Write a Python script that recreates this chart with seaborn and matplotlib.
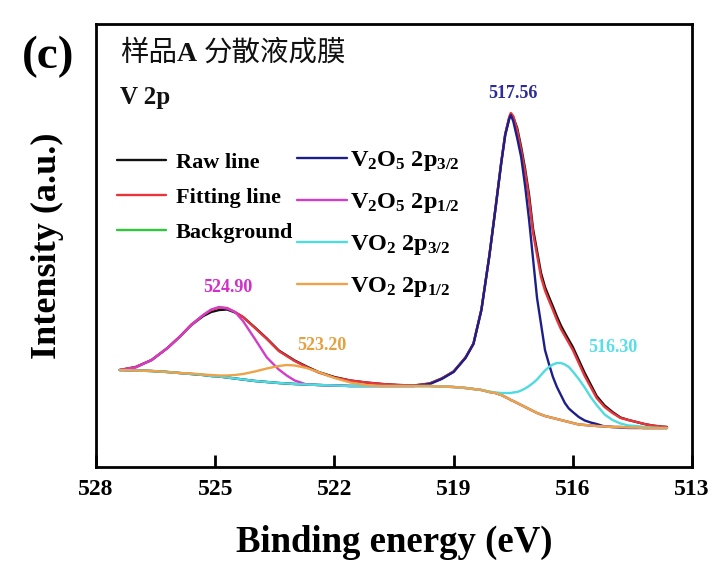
import matplotlib
matplotlib.use("Agg")
import matplotlib.pyplot as plt
import seaborn as sns
import pandas as pd
from matplotlib.font_manager import FontProperties

# ---------------- data ----------------
energy = [527.4, 527.0, 526.6, 526.2, 525.9, 525.6, 525.3, 525.1, 524.9, 524.7,
          524.5, 524.3, 524.0, 523.7, 523.4, 523.2, 523.0, 522.7, 522.4, 522.0,
          521.6, 521.2, 520.8, 520.4, 520.0, 519.6, 519.3, 519.0, 518.7, 518.5,
          518.3, 518.1, 517.95, 517.8, 517.7, 517.6, 517.56, 517.5, 517.4, 517.3,
          517.2, 517.1, 517.0, 516.9, 516.8, 516.7, 516.6, 516.5, 516.4, 516.3,
          516.2, 516.1, 516.0, 515.85, 515.7, 515.55, 515.4, 515.2, 515.0, 514.8,
          514.6, 514.4, 514.2, 514.0, 513.8, 513.63]

background = [97, 96.5, 96, 95, 94, 93, 92, 91, 90.5, 89.5,
              88.5, 87.5, 86, 85, 84, 83.5, 83, 82.5, 82, 81.5,
              81, 81, 81, 81, 81, 81, 80.5, 80, 79, 78,
              77, 75, 74, 72, 70, 68, 67, 66, 64, 62,
              60, 58, 56, 54, 52.5, 51, 50, 49, 48, 47,
              46, 45, 44, 42.5, 42, 41.5, 41, 40.5, 40, 40,
              39.5, 39.5, 39, 39, 39, 39]

raw_line = [97, 100, 107, 119, 130, 142, 151, 155, 157, 157.5,
            154.5, 150, 139.5, 128.5, 116.5, 111.5, 106.5, 100.5, 95, 90,
            86.5, 84.5, 83, 82, 81.5, 83.5, 88.5, 95.5, 109.5, 123.5,
            157.5, 211.5, 257.5, 305, 333, 349, 353, 350, 339, 320,
            298, 272, 238, 216, 194, 180, 170, 160.5, 150.5, 141.5,
            134, 127, 120, 107, 94, 82.5, 71, 61.5, 55, 49.5,
            47, 45, 43, 41.5, 40.5, 40]

fitting_line = [97, 100, 107, 119, 130, 142.5, 152, 157, 159.5, 159,
                155, 150, 139, 128, 116, 111, 106, 100, 94.5, 89.5,
                86.5, 84.5, 83, 82, 81.5, 83.5, 88.5, 95.5, 109.5, 123.5,
                157.5, 211.5, 257.5, 305, 333, 350, 354, 351, 337, 317,
                295, 268, 234, 212, 190, 176.5, 166.5, 157, 147, 138,
                131, 124, 117, 104, 91, 80, 69, 60, 54, 49,
                47, 45, 43, 41.5, 40.5, 40]

v2o5_2p32 = [97, 96.5, 96, 95, 94, 93, 92, 91, 90.5, 89.5,
             88.5, 87.5, 86, 85, 84, 83.5, 83, 82.5, 82, 81.5,
             81, 81, 81, 81, 81, 83, 88, 95, 109, 123,
             157, 211, 257, 304, 332, 348, 352, 346, 329, 310,
             281, 247, 208, 169, 143, 117, 103, 90, 80, 72,
             64, 58.5, 55, 50, 46.5, 44.5, 43, 40.5, 40, 39.5,
             39, 39, 39, 39, 39, 39]

v2o5_2p12 = [97, 99.5, 107, 119, 130, 142, 152, 157.5, 160, 158.5,
             155, 146, 128, 109.5, 97.5, 91.5, 86.5, 82.5, 82, 81.5,
             81, 81, 81, 81, 81, 81, 80.5, 80, 79, 78,
             77, 75, 74, 72, 70, 68, 67, 66, 64, 62,
             60, 58, 56, 54, 52.5, 51, 50, 49, 48, 47,
             46, 45, 44, 42.5, 42, 41.5, 41, 40.5, 40, 40,
             39.5, 39.5, 39, 39, 39, 39]

vo2_2p32 = [97, 96.5, 96, 95, 94, 93, 92, 91, 90.5, 89.5,
            88.5, 87.5, 86, 85, 84, 83.5, 83, 82.5, 82, 81.5,
            81, 81, 81, 81, 81, 81, 80.5, 80, 79, 78,
            77, 75.5, 74.5, 74, 74, 74, 74, 74.5, 75, 76.5,
            78.5, 81, 84, 87.5, 92, 96.5, 100, 102.5, 104, 104,
            102.5, 100, 95.5, 88, 79.5, 70, 62, 52.5, 47, 43.5,
            41.5, 41, 40, 39.5, 39, 39]

vo2_2p12 = [97, 96.5, 96, 95, 94, 93.5, 92.5, 92, 91.5, 91.5,
            92, 93, 95.5, 98.5, 101, 102, 101.5, 99, 95, 89,
            84.5, 82, 81, 81, 81, 81, 80.5, 80, 79, 78,
            77, 75, 74, 72, 70, 68, 67, 66, 64, 62,
            60, 58, 56, 54, 52.5, 51, 50, 49, 48, 47,
            46, 45, 44, 42.5, 42, 41.5, 41, 40.5, 40, 40,
            39.5, 39.5, 39, 39, 39, 39]

x_ticks = [528, 525, 522, 519, 516, 513]
legend_left = ["Raw line", "Fitting line", "Background"]
legend_right = ["V$_2$O$_5$ 2p$_{3/2}$", "V$_2$O$_5$ 2p$_{1/2}$",
                "VO$_2$ 2p$_{3/2}$", "VO$_2$ 2p$_{1/2}$"]
peak_labels = ["524.90", "523.20", "517.56", "516.30"]

# ---------------- style ----------------
sns.set_theme(style="white")
SERIF = "Liberation Serif"
plt.rcParams["font.family"] = [SERIF, "DejaVu Sans"]
plt.rcParams["font.weight"] = "bold"
plt.rcParams["mathtext.fontset"] = "custom"
plt.rcParams["mathtext.rm"] = SERIF + ":bold"
plt.rcParams["mathtext.it"] = SERIF + ":bold"
plt.rcParams["mathtext.bf"] = SERIF + ":bold"

W, H = 725, 580
fig = plt.figure(figsize=(W / 100, H / 100), dpi=100)
fig.patch.set_facecolor("white")
ax = fig.add_axes([96 / W, 1 - 467 / H, 596 / W, 443 / H])
ax.set_facecolor("white")

df = pd.DataFrame({
    "energy": energy, "bg": background, "raw": raw_line, "fit": fitting_line,
    "a": v2o5_2p32, "b": v2o5_2p12, "c": vo2_2p32, "d": vo2_2p12,
})

C_RAW, C_FIT, C_BG = "#111111", "#e8343a", "#2ec83a"
C_A, C_B, C_C, C_D = "#1c1f8a", "#d23cc8", "#4fdbe0", "#eda349"

order = [("bg", C_BG), ("raw", C_RAW), ("fit", C_FIT), ("a", C_A),
         ("b", C_B), ("c", C_C), ("d", C_D)]
lines = {}
for col, color in order:
    sns.lineplot(data=df, x="energy", y=col, ax=ax, color=color,
                 linewidth=1.7, estimator=None, sort=False, legend=False)
    lines[col] = ax.lines[-1]

ax.set_xlim(528, 513)
ax.set_ylim(0, 443)
ax.set_xticks(x_ticks)
ax.set_xticklabels([str(t) for t in x_ticks])
ax.set_yticks([])
ax.tick_params(axis="x", direction="in", length=8.5, width=2, pad=8.5,
               labelsize=17, colors="black", bottom=True, top=False)
for lab in ax.get_xticklabels():
    lab.set_fontweight("bold")
    lab.set_family(SERIF)
for s in ax.spines.values():
    s.set_linewidth(2)
    s.set_color("black")

ax.set_xlabel("Binding energy (eV)", fontsize=26.5, fontweight="bold",
              family=SERIF, color="black")
ax.set_ylabel("Intensity (a.u.)", fontsize=26, fontweight="bold",
              family=SERIF, color="black")
ax.xaxis.set_label_coords(0.5, -0.131)
ax.yaxis.set_label_coords(-0.053, 0.5)

# peak labels
lab_fp = dict(fontsize=13, fontweight="bold", family=SERIF, ha="center", va="center")
ax.text(524.68, 180, peak_labels[0], color="#d030c8", **lab_fp)
ax.text(522.31, 122, peak_labels[1], color="#e5a040", **lab_fp)
ax.text(517.50, 374, peak_labels[2], color="#2c2c9c", **lab_fp)
ax.text(514.99, 119, peak_labels[3], color="#55dfe8", **lab_fp)

# legends
fp1 = FontProperties(family=SERIF, weight="bold", size=16)
leg1 = ax.legend(handles=[lines["raw"], lines["fit"], lines["bg"]],
                 labels=legend_left, loc="upper left",
                 bbox_to_anchor=((117 - 96) / 596, (467 - 152) / 443),
                 frameon=False, borderpad=0, borderaxespad=0,
                 handlelength=2.2, handletextpad=0.45, labelspacing=0.65,
                 prop=fp1)
for t in leg1.get_texts():
    t.set_color("black")
ax.add_artist(leg1)
fp2 = FontProperties(family=SERIF, weight="bold", size=17.5)
leg2 = ax.legend(handles=[lines["a"], lines["b"], lines["c"], lines["d"]],
                 labels=legend_right, loc="upper left",
                 bbox_to_anchor=((297 - 96) / 596, (467 - 149) / 443),
                 frameon=False, borderpad=0, borderaxespad=0,
                 handlelength=2.05, handletextpad=0.15, labelspacing=0.74,
                 prop=fp2)
for t in leg2.get_texts():
    t.set_color("black")

# panel letter and titles
fig.text(48 / W, 1 - 57 / H, "(c)", fontsize=34, fontweight="bold",
         family=SERIF, ha="center", va="center", color="black")

fig.canvas.draw()
r = fig.canvas.get_renderer()
base_y = 1 - 61 / H
t1 = fig.text(120 / W, base_y, "样品", fontsize=20.5, fontweight="normal",
              family=["Noto Sans CJK SC", "DejaVu Sans"], va="baseline", color="#111111")
bb = t1.get_window_extent(r)
t2 = fig.text(bb.x1 / W, base_y, "A", fontsize=20, fontweight="bold",
              family=SERIF, va="baseline", color="#111111")
bb2 = t2.get_window_extent(r)
fig.text(bb2.x1 / W + 7 / W, base_y, "分散液成膜", fontsize=20.5, fontweight="normal",
         family=["Noto Sans CJK SC", "DejaVu Sans"], va="baseline", color="#111111")
fig.text(120 / W, 1 - 104 / H, "V 2p", fontsize=18, fontweight="bold",
         family=SERIF, va="baseline", color="#111111")

fig.savefig("out.png", dpi=100, facecolor="white")
